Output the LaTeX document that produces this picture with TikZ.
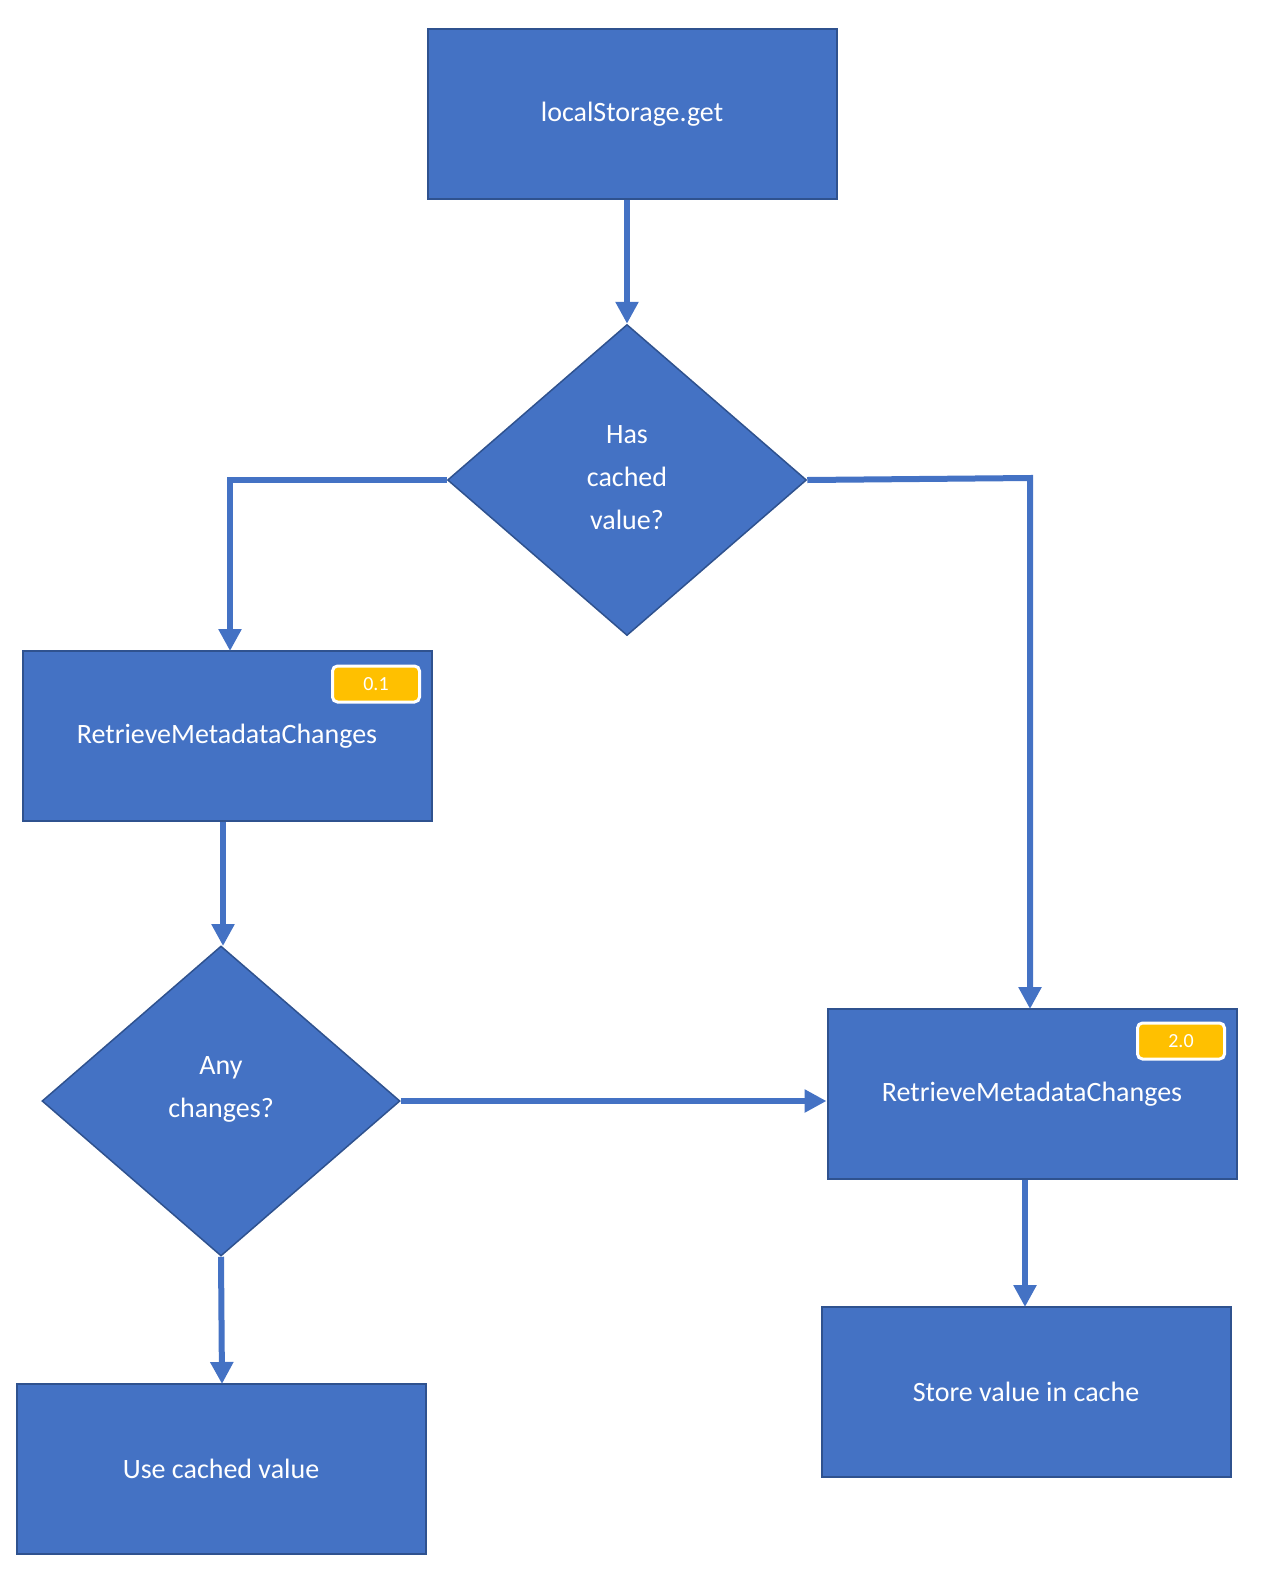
\documentclass[tikz,border=0pt]{standalone}
\usepackage{fontspec}
\setmainfont{Carlito}
\usetikzlibrary{arrows.meta,shapes.geometric}
\definecolor{bfill}{HTML}{4472C4}
\definecolor{bdraw}{HTML}{2F528F}
\definecolor{gold}{HTML}{FFC000}
\begin{document}
\begin{tikzpicture}[x=1pt,y=-1pt,
  box/.style={draw=bdraw,line width=2pt,fill=bfill,text=white,minimum width=409pt,minimum height=170pt,inner sep=0pt,font=\fontsize{28}{34}\selectfont,align=center},
  dia/.style={diamond,draw=bdraw,line width=1.5pt,fill=bfill,text=white,inner sep=0pt,font=\fontsize{28}{43}\selectfont,align=center},
  badge/.style={draw=white,line width=3pt,fill=gold,rounded corners=5pt,text=white,minimum width=87pt,minimum height=36pt,inner sep=0pt,font=\fontsize{20}{24}\selectfont},
  conn/.style={draw=bfill,line width=6pt,-{Triangle[length=22pt,width=22pt]}}]
\useasboundingbox (0,0) rectangle (1267,1585);
\node[box] (top) at (632,114) {localStorage.get};
\node[dia,minimum width=359pt,minimum height=311pt] (d1) at (627,480) {};
\node[text=white,font=\fontsize{28}{43}\selectfont,align=center] at (627,478) {Has\\cached\\value?};
\node[box] (b2) at (227,736) {RetrieveMetadataChanges};
\node[badge] (g1) at (376,684) {0.1};
\node[dia,minimum width=358pt,minimum height=310pt] (d2) at (221,1101) {};
\node[text=white,font=\fontsize{28}{43}\selectfont,align=center] at (221,1089) {Any\\changes?};
\node[box] (b3) at (1032,1094) {RetrieveMetadataChanges};
\node[badge] (g2) at (1181,1041) {2.0};
\node[box] (b4) at (1026,1392) {Store value in cache};
\node[box] (b5) at (221,1469) {Use cached value};
\draw[conn] (top.south -| d1.north) -- (d1.north);
\draw[conn] (d1.west) -- (230,480) -- (230,651);
\draw[conn] (d1.east) -- (1030,478) -- (1030,1009);
\draw[conn] (223,822) -- (223,946);
\draw[conn] (d2.east) -- (b3.west |- d2.east);
\draw[conn] (1025,1180) -- (1025,1307);
\draw[conn] (d2.south) -- (222,1384);
\end{tikzpicture}
\end{document}
